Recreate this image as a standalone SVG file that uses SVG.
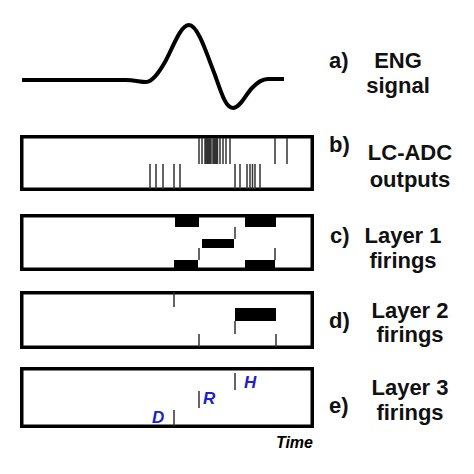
<svg xmlns="http://www.w3.org/2000/svg" width="474" height="474" viewBox="0 0 474 474">
<style>
.box{fill:none;stroke:#000;stroke-width:3.5}
.tk{stroke:#333;stroke-width:1.5}
.blk{fill:#000}
.lbl{font-family:"Liberation Sans",Arial,sans-serif;font-weight:bold;font-size:22px;fill:#111}
.mid{text-anchor:middle}
.ev{font-family:"Liberation Sans",Arial,sans-serif;font-weight:bold;font-style:italic;font-size:17px;fill:#2020cc}
.time{font-family:"Liberation Sans",Arial,sans-serif;font-weight:bold;font-style:italic;font-size:16px;fill:#000;text-anchor:end}
</style>
<rect width="474" height="474" fill="#fff"/>
<g id="panel-a">
<path d="M22,80 H125 C135,80 140,82 146,82 C152,82 158,74 165,62 C172,50 180,25 189,25 C198,25 207,55 215,75 C222,95 226,108 233,108 C240,108 246,94 252,88 C258,82 262,79 268,79 H284" fill="none" stroke="#000" stroke-width="4" stroke-linejoin="round"/>
<text class="lbl" x="329" y="68">a)</text>
<text class="lbl mid" x="398" y="68">ENG</text>
<text class="lbl mid" x="398" y="93">signal</text>
</g>
<g id="panel-b">
<rect class="box" x="21.75" y="136.75" width="290.5" height="52.5"/>
<g class="tk">
<path d="M199,138V164M202,138V164M205,138V164M206.5,138V164M208,138V164M209.5,138V164M211,138V164M213,138V164M214.5,138V164M216,138V164M217.5,138V164M220,138V164M223,138V164M226,138V164M230,138V164M275,138V164M287,138V164"/>
<path d="M150,164V189M156,164V189M163,164V189M174,164V189M180,164V189M235,164V189M240,164V189M247,164V189M250,164V189M252.5,164V189M255,164V189M260,164V189"/>
</g>
<text class="lbl" x="329" y="152">b)</text>
<text class="lbl mid" x="410" y="160">LC-ADC</text>
<text class="lbl mid" x="410" y="187">outputs</text>
</g>
<g id="panel-c">
<rect class="box" x="21.75" y="215.75" width="290.5" height="53.5"/>
<rect class="blk" x="175" y="214" width="24" height="13"/>
<rect class="blk" x="245" y="214" width="31" height="13"/>
<rect class="blk" x="202" y="239" width="32" height="9"/>
<rect class="blk" x="174" y="260" width="24" height="11"/>
<rect class="blk" x="245" y="260" width="30" height="11"/>
<path class="tk" d="M235,227V239M199,248V260M275,248V260"/>
<text class="lbl" x="330" y="243">c)</text>
<text class="lbl mid" x="403" y="243">Layer 1</text>
<text class="lbl mid" x="403" y="268">firings</text>
</g>
<g id="panel-d">
<rect class="box" x="21.75" y="292.75" width="290.5" height="54.5"/>
<rect class="blk" x="235" y="308" width="41" height="13"/>
<path class="tk" d="M174,292V307M235,321V334M199,334V347M276,334V347"/>
<text class="lbl" x="329" y="328">d)</text>
<text class="lbl mid" x="410" y="318">Layer 2</text>
<text class="lbl mid" x="410" y="342">firings</text>
</g>
<g id="panel-e">
<rect class="box" x="21.75" y="368.75" width="290.5" height="57.5"/>
<path class="tk" d="M235,373V390M199,391V408M174,410V426"/>
<text class="ev" x="244" y="388">H</text>
<text class="ev" x="203" y="404">R</text>
<text class="ev" x="152" y="423">D</text>
<text class="time" x="313" y="448">Time</text>
<text class="lbl" x="329" y="413">e)</text>
<text class="lbl mid" x="410" y="395">Layer 3</text>
<text class="lbl mid" x="410" y="420">firings</text>
</g>
</svg>
